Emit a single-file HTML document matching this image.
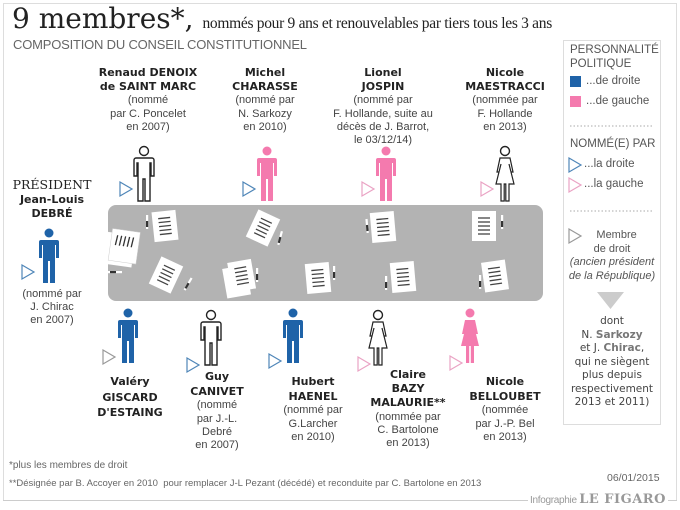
<!DOCTYPE html>
<html><head><meta charset="utf-8">
<style>
*{margin:0;padding:0;box-sizing:border-box}
body{width:680px;height:510px;background:#fff;position:relative;overflow:hidden;font-family:"Liberation Sans","DejaVu Sans",sans-serif;color:#333}
.t{position:absolute;text-align:center;font-size:11px;line-height:13.2px;color:#444;width:140px}
.t b{color:#222;font-weight:bold;font-family:"DejaVu Sans","Liberation Sans",sans-serif;font-size:11px}
svg{position:absolute;left:0;top:0}
.lg{position:absolute;font-size:11.5px;color:#555}
</style></head><body>
<div style="position:absolute;left:3px;top:3px;width:674px;height:498px;border:1px solid #ddd;border-bottom:none"></div>
<div style="position:absolute;left:12px;top:2px;font-family:'DejaVu Serif','Liberation Serif',serif;font-size:28px;color:#222;white-space:nowrap">9 membres*<span>,</span> <span style="font-family:'Liberation Serif',serif;font-size:15.5px;letter-spacing:-0.3px">nommés pour 9 ans et renouvelables par tiers tous les 3 ans</span></div>
<div style="position:absolute;left:13px;top:37px;font-size:13px;color:#666;letter-spacing:-0.2px">COMPOSITION DU CONSEIL CONSTITUTIONNEL</div>

<svg width="680" height="510" viewBox="0 0 680 510">
<defs>
<path id="man" d="M3,12 H19 A2,2 0 0 1 21,14 V30 H18 V17 H17 V55 H12 V33 H10 V55 H5 V17 H4 V30 H1 V14 A2,2 0 0 1 3,12 Z"/>
<path id="wom" d="M6,12 H16 L19,26 H17 L15,18 L20,38 H15 V55 H11.8 V38 H10.2 V55 H7 V38 H2 L7,18 L5,26 H3 Z"/>
<g id="paper"><rect x="-12" y="-15" width="24" height="30" fill="#fff"/><g stroke="#444" stroke-width="1.3"><line x1="-6" y1="-8" x2="6" y2="-8"/><line x1="-6" y1="-4" x2="6" y2="-4"/><line x1="-6" y1="0" x2="6" y2="0"/><line x1="-6" y1="4" x2="6" y2="4"/><line x1="-6" y1="8" x2="6" y2="8"/></g></g>
<g id="pen"><rect x="-1" y="-7" width="2.2" height="14" fill="#fff"/><rect x="-1" y="-1" width="2.2" height="6" fill="#333"/></g>
</defs>
<rect x="108" y="205" width="435" height="96" rx="8" fill="#b3b3b3"/>
<use href="#paper" transform="translate(165,226) rotate(-6)"/><use href="#pen" transform="translate(147,222)"/>
<g transform="translate(122,248) rotate(8)"><rect x="-16" y="-14" width="28" height="32" fill="#fff"/><rect x="-12" y="-18" width="28" height="32" fill="#fff" stroke="#ccc" stroke-width="0.5"/><g stroke="#333" stroke-width="1.3"><line x1="-6" y1="-12" x2="-7" y2="-2"/><line x1="-2" y1="-12" x2="-3" y2="-2"/><line x1="2" y1="-12" x2="1" y2="-2"/><line x1="6" y1="-12" x2="5" y2="-2"/><line x1="10" y1="-12" x2="9" y2="-2"/></g></g>
<use href="#pen" transform="translate(115,272) rotate(90)"/>
<use href="#paper" transform="translate(263,228) rotate(25)"/><use href="#pen" transform="translate(280,238) rotate(15)"/>
<use href="#paper" transform="translate(383,227) rotate(-5)"/><use href="#pen" transform="translate(367,226) rotate(-5)"/>
<use href="#paper" transform="translate(484,226)"/><use href="#pen" transform="translate(502,222)"/>
<use href="#paper" transform="translate(166,275) rotate(25)"/><use href="#pen" transform="translate(188,284) rotate(30)"/>
<g transform="translate(240,278) rotate(-10)"><rect x="-16" y="-12" width="24" height="30" fill="#fff"/><use href="#paper" transform="translate(2,-2)"/></g><use href="#pen" transform="translate(257,275)"/>
<use href="#paper" transform="translate(318,278) rotate(-5)"/><use href="#pen" transform="translate(334,273)"/>
<use href="#paper" transform="translate(403,277) rotate(-5)"/><use href="#pen" transform="translate(386,283)"/>
<use href="#paper" transform="translate(495,276) rotate(-8)"/><use href="#pen" transform="translate(480,282)"/>

<use href="#man" x="133" y="146" fill="#fff" stroke="#222" stroke-width="1.4"/><circle cx="144" cy="151" r="4.5" fill="#fff" stroke="#222" stroke-width="1.4"/>
<use href="#man" x="256" y="146" fill="#f47aae"/><circle cx="267" cy="151" r="4.5" fill="#f47aae"/>
<use href="#man" x="375" y="146" fill="#f47aae"/><circle cx="386" cy="151" r="4.5" fill="#f47aae"/>
<use href="#wom" x="494" y="146" fill="#fff" stroke="#222" stroke-width="1.2"/><circle cx="505" cy="151" r="4.5" fill="#fff" stroke="#222" stroke-width="1.4"/>
<g fill="none" stroke-width="1.2">
<path d="M120,182 L132,189 L120,196 Z" stroke="#4f86b8"/>
<path d="M243,182 L255,189 L243,196 Z" stroke="#4f86b8"/>
<path d="M362,182 L374,189 L362,196 Z" stroke="#eaa3c4"/>
<path d="M481,182 L493,189 L481,196 Z" stroke="#eaa3c4"/>
<path d="M22,265 L34,272 L22,279 Z" stroke="#4f86b8"/>
<path d="M103,350 L115,357 L103,364 Z" stroke="#999"/>
<path d="M187,358 L199,365 L187,372 Z" stroke="#4f86b8"/>
<path d="M269,354 L281,361 L269,368 Z" stroke="#4f86b8"/>
<path d="M358,357 L370,364 L358,371 Z" stroke="#eaa3c4"/>
<path d="M450,356 L462,363 L450,370 Z" stroke="#eaa3c4"/>
<path d="M569,229 L581,236 L569,243 Z" stroke="#999"/>
<path d="M569,158 L581,165 L569,172 Z" stroke="#4f86b8"/>
<path d="M569,178 L581,185 L569,192 Z" stroke="#eaa3c4"/>
</g>
<use href="#man" x="38" y="228" fill="#1f63a8"/><circle cx="49" cy="233" r="4.5" fill="#1f63a8"/>
<use href="#man" x="117" y="308" fill="#1f63a8"/><circle cx="128" cy="313" r="4.5" fill="#1f63a8"/>
<use href="#man" x="200" y="310" fill="#fff" stroke="#222" stroke-width="1.4"/><circle cx="211" cy="315" r="4.5" fill="#fff" stroke="#222" stroke-width="1.4"/>
<use href="#man" x="282" y="308" fill="#1f63a8"/><circle cx="293" cy="313" r="4.5" fill="#1f63a8"/>
<use href="#wom" x="367" y="310" fill="#fff" stroke="#222" stroke-width="1.2"/><circle cx="378" cy="315" r="4.5" fill="#fff" stroke="#222" stroke-width="1.4"/>
<use href="#wom" x="459" y="308" fill="#f47aae"/><circle cx="470" cy="313" r="4.5" fill="#f47aae"/>
<rect x="563.5" y="40.5" width="97" height="384" fill="none" stroke="#ddd"/>
<rect x="570" y="76" width="11" height="11" fill="#1f63a8"/>
<rect x="570" y="96" width="11" height="11" fill="#f47aae"/>
<line x1="570" y1="126" x2="654" y2="126" stroke="#aaa" stroke-dasharray="1.5,2"/>
<line x1="570" y1="211" x2="654" y2="211" stroke="#aaa" stroke-dasharray="1.5,2"/>
<path d="M597,292 L624,292 L610.5,309 Z" fill="#ccc"/>
<line x1="3" y1="500.5" x2="528" y2="500.5" stroke="#ccc"/>
<line x1="668" y1="500.5" x2="677" y2="500.5" stroke="#ccc"/>
</svg>

<div class="t" style="left:78px;top:66px"><b>Renaud DENOIX<br>de SAINT MARC</b><br>(nommé<br>par C. Poncelet<br>en 2007)</div>
<div class="t" style="left:195px;top:66px"><b>Michel<br>CHARASSE</b><br>(nommé par<br>N. Sarkozy<br>en 2010)</div>
<div class="t" style="left:313px;top:66px"><b>Lionel<br>JOSPIN</b><br>(nommé par<br>F. Hollande, suite au<br>décès de J. Barrot,<br>le 03/12/14)</div>
<div class="t" style="left:435px;top:66px"><b>Nicole<br>MAESTRACCI</b><br>(nommée par<br>F. Hollande<br>en 2013)</div>

<div class="t" style="left:-18px;top:178px;width:140px"><span style="font-family:'DejaVu Serif','Liberation Serif',serif;font-size:12.5px;color:#222">PRÉSIDENT</span><br><b>Jean-Louis<br>DEBRÉ</b></div>
<div class="t" style="left:-18px;top:288px;width:140px">(nommé par<br>J. Chirac<br>en 2007)</div>

<div class="t" style="left:60px;top:374px"><b style="line-height:15.5px">Valéry<br>GISCARD<br>D'ESTAING</b></div>
<div class="t" style="left:147px;top:369px"><b style="line-height:15px">Guy<br>CANIVET</b><br>(nommé<br>par J.-L.<br>Debré<br>en 2007)</div>
<div class="t" style="left:243px;top:374px"><b style="line-height:15px">Hubert<br>HAENEL</b><br>(nommé par<br>G.Larcher<br>en 2010)</div>
<div class="t" style="left:338px;top:368px"><b style="line-height:14px">Claire<br>BAZY<br>MALAURIE**</b><br>(nommée par<br>C. Bartolone<br>en 2013)</div>
<div class="t" style="left:435px;top:374px"><b style="line-height:15px">Nicole<br>BELLOUBET</b><br>(nommée<br>par J.-P. Bel<br>en 2013)</div>

<div class="lg" style="left:570px;top:43px;line-height:14px">PERSONNALITÉ<br>POLITIQUE</div>
<div class="lg" style="left:586px;top:75px">...de droite</div>
<div class="lg" style="left:586px;top:95px">...de gauche</div>
<div class="lg" style="left:570px;top:138px">NOMMÉ(E) PAR</div>
<div class="lg" style="left:584px;top:158px">...la droite</div>
<div class="lg" style="left:584px;top:178px">...la gauche</div>
<div class="lg" style="left:566px;top:229px;width:92px;text-align:center;line-height:13.5px;font-size:11px">&nbsp;&nbsp;&nbsp;Membre<br>de droit<br><i>(ancien président<br>de la République)</i></div>
<div class="lg" style="left:566px;top:315px;width:92px;text-align:center;line-height:13.5px;font-size:10.5px;font-family:'DejaVu Sans',sans-serif;color:#444">dont<br>N. <b style="color:#777">Sarkozy</b><br>et J. <b style="color:#777">Chirac</b>,<br>qui ne siègent<br>plus depuis<br>respectivement<br>2013 et 2011)</div>

<div style="position:absolute;left:9px;top:460px;font-size:10px;color:#666">*plus les membres de droit</div>
<div style="position:absolute;left:9px;top:478px;font-size:9.5px;color:#666;white-space:nowrap">**Désignée par B. Accoyer en 2010&nbsp; pour remplacer J-L Pezant (décédé) et reconduite par C. Bartolone en 2013</div>
<div style="position:absolute;left:607px;top:472px;font-size:10.5px;color:#666">06/01/2015</div>
<div style="position:absolute;left:530px;top:492px;font-size:10px;color:#999;white-space:nowrap;letter-spacing:-0.3px">Infographie <span style="font-family:'DejaVu Serif',serif;font-weight:bold;font-size:13px;color:#999;letter-spacing:0.5px">LE FIGARO</span></div>
</body></html>
